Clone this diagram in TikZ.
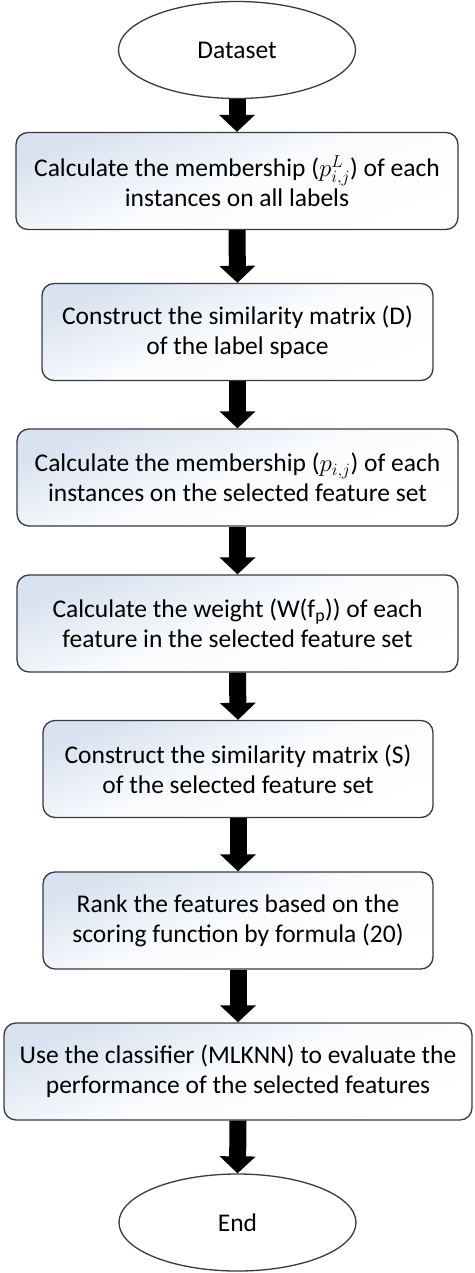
\documentclass[tikz,border=0pt]{standalone}
\usepackage{fontspec}
\setmainfont{Carlito}
\usetikzlibrary{shapes.geometric,arrows.meta}
\definecolor{boxblue}{HTML}{D8E2F0}
\definecolor{edge}{HTML}{3A3A3A}
\tikzset{
  procbox/.style={draw=edge, line width=1.3pt, rounded corners=12pt, inner sep=0pt,
    top color=boxblue, bottom color=white, middle color=white!88!boxblue, shading angle=20,
    align=center, font=\fontsize{25.5}{30}\selectfont, minimum height=97pt},
  termin/.style={ellipse, draw=edge, line width=1.3pt, fill=white, inner sep=0pt,
    minimum width=237pt, minimum height=97pt, font=\fontsize{25.5}{30}\selectfont},
  blockarrow/.style={line width=17pt, draw=black, -{Triangle[width=35pt,length=17pt]}}
}
\begin{document}
\begin{tikzpicture}[x=1pt,y=-1pt]
\useasboundingbox (0,0) rectangle (474,1273);
\node[termin] (ds) at (237,50) {Dataset};
\node[procbox, minimum width=442pt] (b1) at (237,181) {Calculate the membership ($p^{L}_{i,j}$) of each\\instances on all labels};
\node[procbox, minimum width=391pt] (b2) at (237.5,332) {Construct the similarity matrix (D)\\of the label space};
\node[procbox, minimum width=441pt] (b3) at (237.5,477.5) {Calculate the membership ($p_{i,j}$) of each\\instances on the selected feature set};
\node[procbox, minimum width=441pt] (b4) at (237.5,623.5) {Calculate the weight (W(f\textsubscript{p})) of each\\feature in the selected feature set};
\node[procbox, minimum width=390pt] (b5) at (238,769) {Construct the similarity matrix (S)\\of the selected feature set};
\node[procbox, minimum width=390pt] (b6) at (238,920.5) {Rank the features based on the\\scoring function by formula (20)};
\node[procbox, minimum width=468pt] (b7) at (238,1071.5) {Use the classifier (MLKNN) to evaluate the\\performance of the selected features};
\node[termin] (en) at (237.5,1222.5) {End};
\draw[blockarrow] (ds.south) -- (b1.north);
\draw[blockarrow] (b1.south) -- (b2.north);
\draw[blockarrow] (b2.south) -- (b3.north);
\draw[blockarrow] (b3.south) -- (b4.north);
\draw[blockarrow] (b4.south) -- (b5.north);
\draw[blockarrow] (b5.south) -- (b6.north);
\draw[blockarrow] (b6.south) -- (b7.north);
\draw[blockarrow] (b7.south) -- (en.north);
\end{tikzpicture}
\end{document}
